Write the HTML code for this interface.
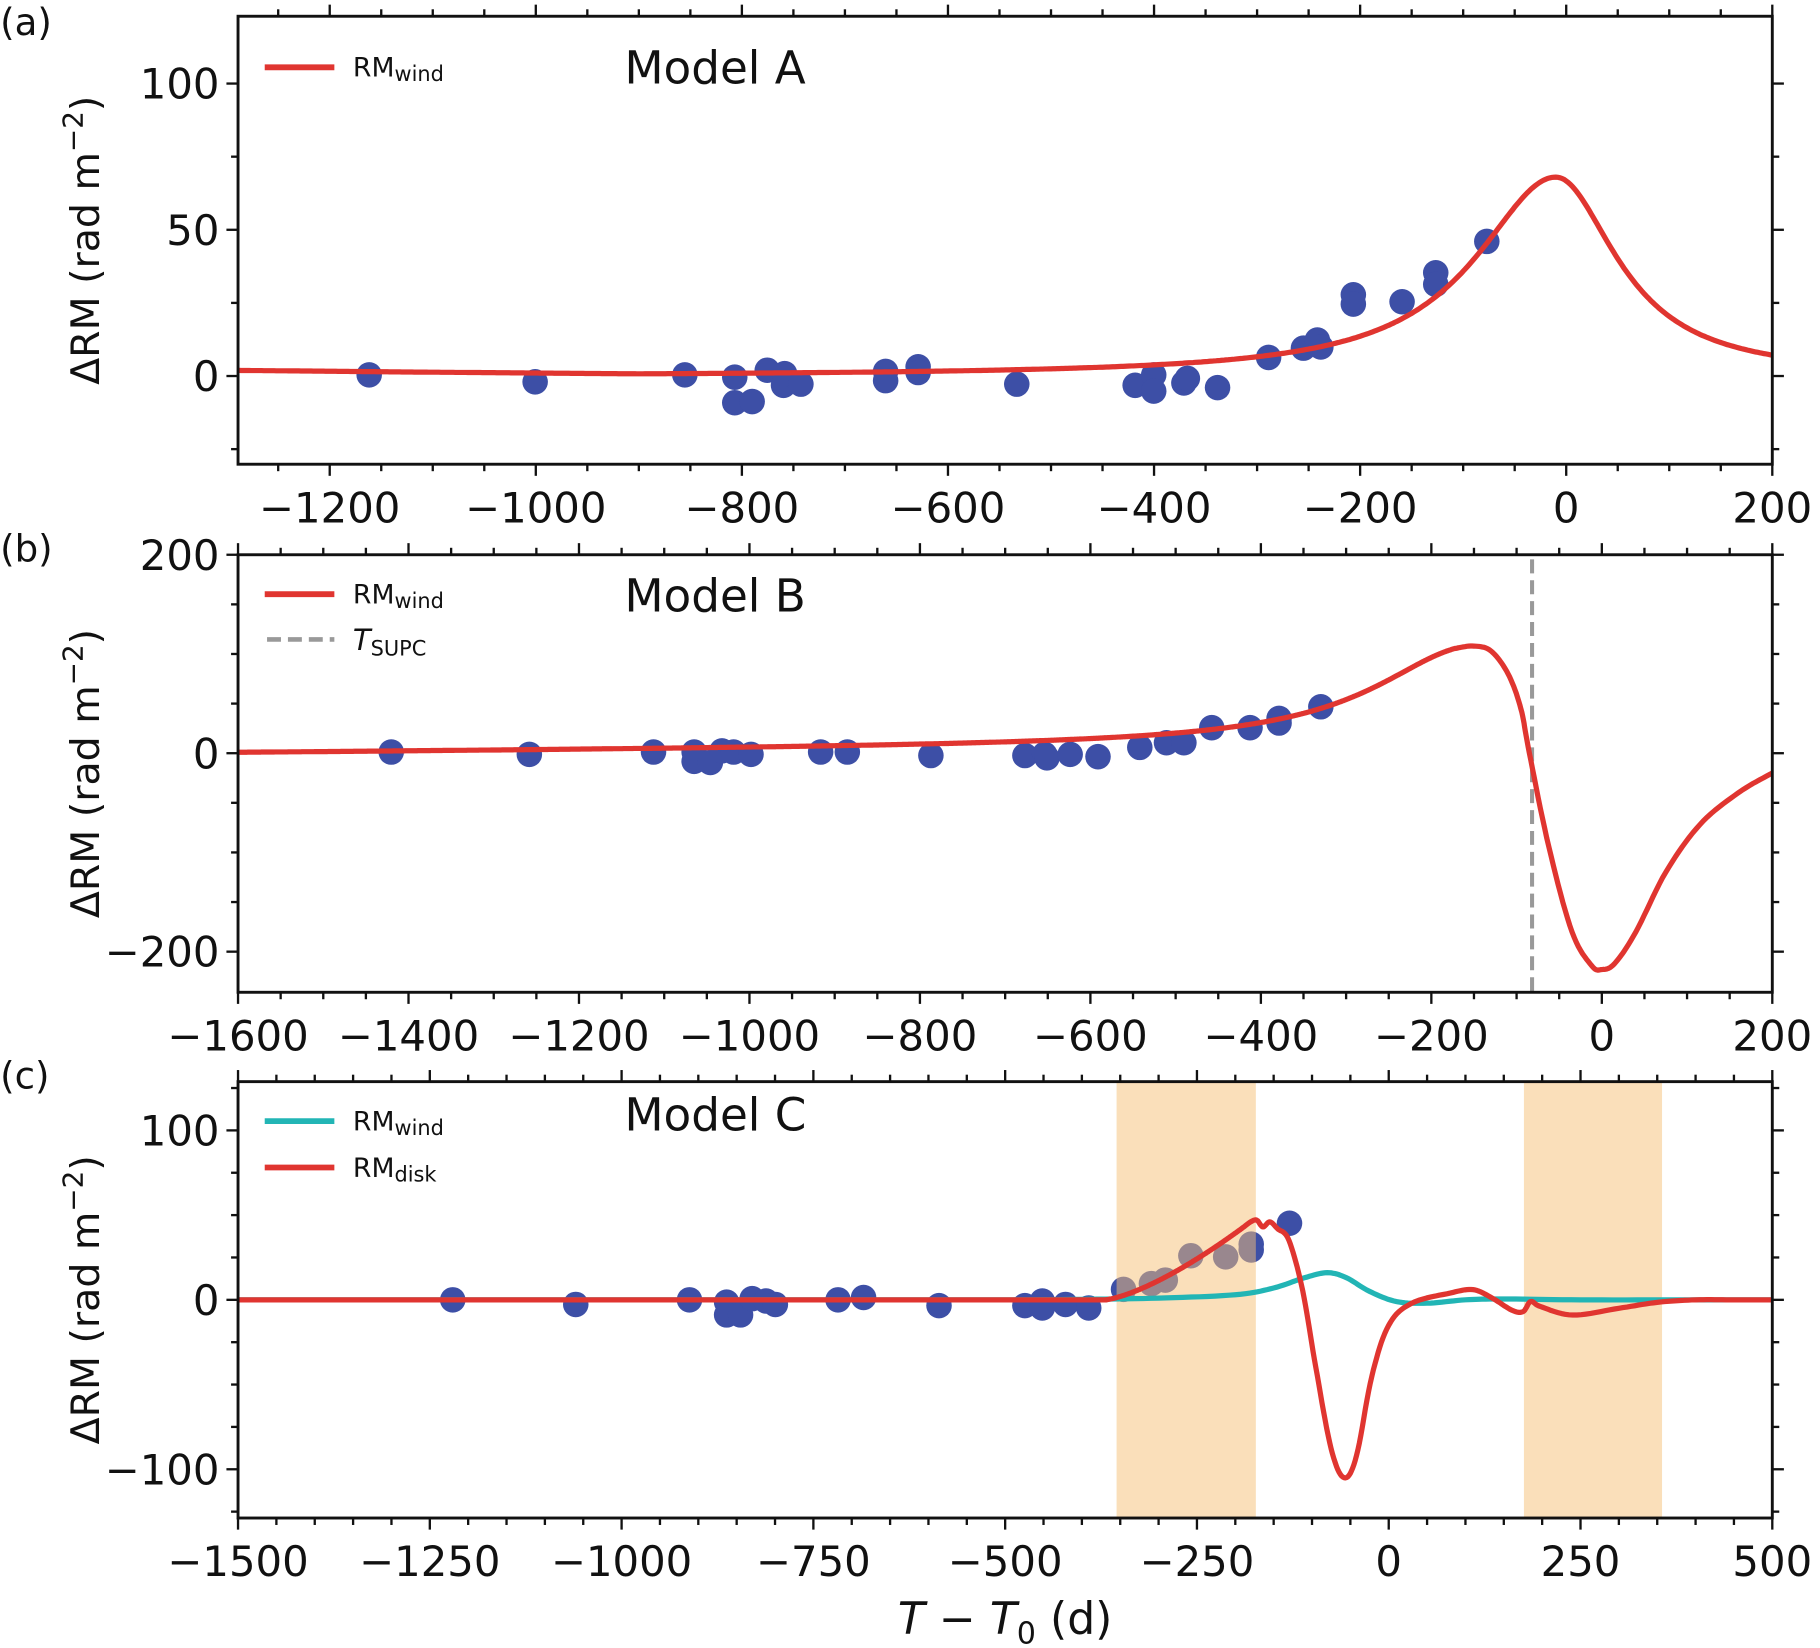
<!DOCTYPE html>
<html><head><meta charset="utf-8"><style>
html,body{margin:0;padding:0;background:#fff;}
svg{display:block;font-family:"DejaVu Sans","Liberation Sans",sans-serif;}
</style></head><body>
<svg id="s" width="1820" height="1648" viewBox="0 0 1568 1420" xmlns="http://www.w3.org/2000/svg"></svg>
<script>
const S=document.getElementById('s');let H='';
const RED='#e03530',BLUE='#3d4fa6',CYAN='#22b5b5';
function P(x0,x1,X0,X1,y0,y1,Y0,Y1){return{sx:t=>X0+(t-x0)*(X1-X0)/(x1-x0),sy:v=>Y0+(v-y0)*(Y1-Y0)/(y1-y0)};}
function cr(pts,p){let d='';const n=pts.length;
 for(let i=0;i<n-1;i++){const p0=pts[Math.max(i-1,0)],p1=pts[i],p2=pts[i+1],p3=pts[Math.min(i+2,n-1)];
  for(let k=(i==0?0:1);k<=10;k++){const t=k/10,t2=t*t,t3=t2*t;
   const f=(a,b,c,e)=>0.5*((2*b)+(-a+c)*t+(2*a-5*b+4*c-e)*t2+(-a+3*b-3*c+e)*t3);
   const x=f(p0[0],p1[0],p2[0],p3[0]),y=f(p0[1],p1[1],p2[1],p3[1]);
   d+=(d?'L':'M')+p.sx(x).toFixed(1)+' '+p.sy(y).toFixed(1);}}
 return d;}
function fn(f,a,b,p){let d='';for(let t=a;t<=b;t+=2){d+=(d?'L':'M')+p.sx(t).toFixed(1)+' '+p.sy(f(t)).toFixed(1);}return d;}
function axes(L,R,T,B,p,xt,xmin,ymaj,ymin,xr,yr){
 H+=`<rect x="${L}" y="${T}" width="${R-L}" height="${B-T}" fill="none" stroke="#111" stroke-width="2.5"/>`;
 for(let v=xr[0];v<=xr[1]+0.01;v+=xmin){const x=p.sx(v);if(x<L-0.5||x>R+0.5)continue;const m=Math.abs(v%xt)<0.01;const l=m?10:6;
  H+=`<line x1="${x}" y1="${B}" x2="${x}" y2="${B+l}" stroke="#111" stroke-width="2"/><line x1="${x}" y1="${T}" x2="${x}" y2="${T-l}" stroke="#111" stroke-width="2"/>`;
  if(m)H+=`<text x="${x}" y="${B+50}" font-size="36" text-anchor="middle" fill="#111">${v<0?'\u2212'+(-v):v}</text>`;}
 for(let v=yr[0];v<=yr[1]+0.01;v+=ymin){const y=p.sy(v);if(y<T-0.5||y>B+0.5)continue;const m=Math.abs(v%ymaj)<0.01;const l=m?10:6;
  H+=`<line x1="${L}" y1="${y}" x2="${L-l}" y2="${y}" stroke="#111" stroke-width="2"/><line x1="${R}" y1="${y}" x2="${R+l}" y2="${y}" stroke="#111" stroke-width="2"/>`;
  if(m)H+=`<text x="${L-16}" y="${y+13}" font-size="36" text-anchor="end" fill="#111">${v<0?'\u2212'+(-v):v}</text>`;}
 H+=`<text transform="translate(85,${(T+B)/2}) rotate(-90)" font-size="34" text-anchor="middle" fill="#111">ΔRM (rad m<tspan dy="-14" font-size="24">−2</tspan><tspan dy="14">)</tspan></text>`;
}
function dots(a){for(const[x,y]of a)H+=`<circle cx="${x}" cy="${y}" r="11" fill="${BLUE}"/>`;}
function clip(id,L,R,T,B){H+=`<clipPath id="${id}"><rect x="${L}" y="${T}" width="${R-L}" height="${B-T}"/></clipPath>`;}
// Panel A
let pa=P(-1200,200,284,1527,0,100,324,72);
clip('ca',205,1527,14,400);
dots([[318,323],[461,329],[590,323],[633,325],[633,347],[648,346],[661,319],[675,332],[676,322],[690,331],[763,320],[763,328],[791,316],[791,321],[876,331],[978,332],[994,323],[994,337],[1020,330],[1023,326],[1049,334],[1093,308],[1123,300],[1135,293],[1138,299],[1166,254],[1166,262],[1208,260],[1237,235],[1237,245],[1281,208]]);
H+=`<path clip-path="url(#ca)" d="${fn(t=>{const d=t+10;const w=d<0?95:72;return 68/(1+(d/w)**2)+(t<-900?(-900-t)*0.004:0);},-1300,200,pa)}" fill="none" stroke="${RED}" stroke-width="4.5"/>`;
axes(205,1527,14,400,pa,200,50,50,25,[-1300,200],[-25,120]);
H+=`<line x1="228" y1="58" x2="288" y2="58" stroke="${RED}" stroke-width="5"/><text x="304" y="66" font-size="23" fill="#111">RM<tspan font-size="18" dy="4">wind</tspan></text>`;
H+=`<text x="538" y="72" font-size="39" fill="#111">Model A</text><text x="0" y="30" font-size="32" fill="#111">(a)</text>`;
// Panel B
let pb=P(-1600,200,205,1527,0,200,649,478);
clip('cb',205,1527,478,855);
dots([[337,648],[456,650],[563,648],[598,648],[598,656],[612,657],[622,647],[632,648],[647,650],[707,648],[730,648],[802,651],[883,651],[900,650],[902,653],[922,650],[946,652],[982,644],[1005,640],[1020,640],[1044,627],[1077,627],[1102,619],[1102,623],[1138,609]]);
H+=`<line x1="1320" y1="482" x2="1320" y2="855" stroke="#999" stroke-width="3.5" stroke-dasharray="12,6"/>`;
let bl=[];for(let t=-1620;t<=-170;t+=10){bl.push([t,99.3/(1+((t+150)/140)**2)+0.006*(t+1600)]);}
bl=bl.concat([[-150,108],[-130,103],[-110,80],[-95,45],[-85,0],[-62,-95],[-35,-180],[-12,-214],[0,-218],[15,-212],[40,-180],[75,-120],[115,-72],[160,-40],[200,-20],[220,-12]]);
H+=`<path clip-path="url(#cb)" d="${cr(bl,pb)}" fill="none" stroke="${RED}" stroke-width="4.5" stroke-linejoin="round"/>`;
axes(205,1527,478,855,pb,200,50,200,50,[-1600,200],[-250,200]);
H+=`<line x1="228" y1="512" x2="288" y2="512" stroke="${RED}" stroke-width="5"/><text x="304" y="520" font-size="23" fill="#111">RM<tspan font-size="18" dy="4">wind</tspan></text>`;
H+=`<line x1="230" y1="551" x2="288" y2="551" stroke="#999" stroke-width="4" stroke-dasharray="12,6"/><text x="304" y="560" font-size="25" font-style="italic" fill="#111">T<tspan font-size="18" dy="5" font-style="normal">SUPC</tspan></text>`;
H+=`<text x="538" y="527" font-size="39" fill="#111">Model B</text><text x="0" y="484" font-size="32" fill="#111">(b)</text>`;
// Panel C
let pc=P(-1500,500,205,1527,0,100,1120,974);
clip('cc',205,1527,932,1308);
dots([[390,1120],[496,1124],[594,1120],[626,1122],[626,1133],[638,1133],[648,1119],[660,1121],[668,1124],[722,1120],[744,1118],[809,1125],[883,1125],[898,1121],[898,1127],[918,1124],[938,1127],[968,1111],[992,1106],[1004,1103],[1026,1082],[1056,1083],[1078,1072],[1078,1077],[1111,1054]]);
H+=`<rect x="962" y="932" width="120" height="376" fill="rgb(245,191,117)" opacity="0.5"/><rect x="1313" y="932" width="119" height="376" fill="rgb(245,191,117)" opacity="0.5"/>`;
const cy=[[-1500,0],[-600,0],[-500,0],[-400,0.3],[-300,1],[-200,3],[-150,7],[-110,13],[-80,16],[-55,13],[-25,5],[10,-1],[50,-2],[100,0],[150,0.5],[250,0],[400,0],[500,0]];
H+=`<path clip-path="url(#cc)" d="${cr(cy,pc)}" fill="none" stroke="${CYAN}" stroke-width="4.5"/>`;
let c2=[[-1500,0],[-1000,0],[-500,0],[-380,0]];
for(let t=-370;t<=-180;t+=10)c2.push([t,46*Math.pow((t+370)/190,1.4)]);
c2=c2.concat([[-172,47],[-164,43],[-155,46],[-145,42],[-130,35],[-112,5],[-95,-40],[-75,-88],[-58,-105],[-42,-92],[-22,-45],[0,-15],[30,-2],[80,4],[110,6],[135,1],[160,-6],[175,-7],[185,-1],[198,-4],[240,-9],[300,-5],[350,-1.5],[400,0],[450,0],[500,0]]);
H+=`<path clip-path="url(#cc)" d="${cr(c2,pc)}" fill="none" stroke="${RED}" stroke-width="4.5" stroke-linejoin="round"/>`;
axes(205,1527,932,1308,pc,250,50,100,25,[-1500,500],[-125,125]);
H+=`<line x1="228" y1="966" x2="288" y2="966" stroke="${CYAN}" stroke-width="5"/><text x="304" y="974" font-size="23" fill="#111">RM<tspan font-size="18" dy="4">wind</tspan></text>`;
H+=`<line x1="228" y1="1006" x2="288" y2="1006" stroke="${RED}" stroke-width="5"/><text x="304" y="1014" font-size="23" fill="#111">RM<tspan font-size="18" dy="4">disk</tspan></text>`;
H+=`<text x="538" y="974" font-size="39" fill="#111">Model C</text><text x="0" y="938" font-size="32" fill="#111">(c)</text>`;
H+=`<text x="866" y="1408" font-size="38" text-anchor="middle" fill="#111"><tspan font-style="italic">T</tspan> − <tspan font-style="italic">T</tspan><tspan font-size="26" dy="8">0</tspan><tspan dy="-8"> (d)</tspan></text>`;
S.innerHTML=H;
</script>
</body></html>
